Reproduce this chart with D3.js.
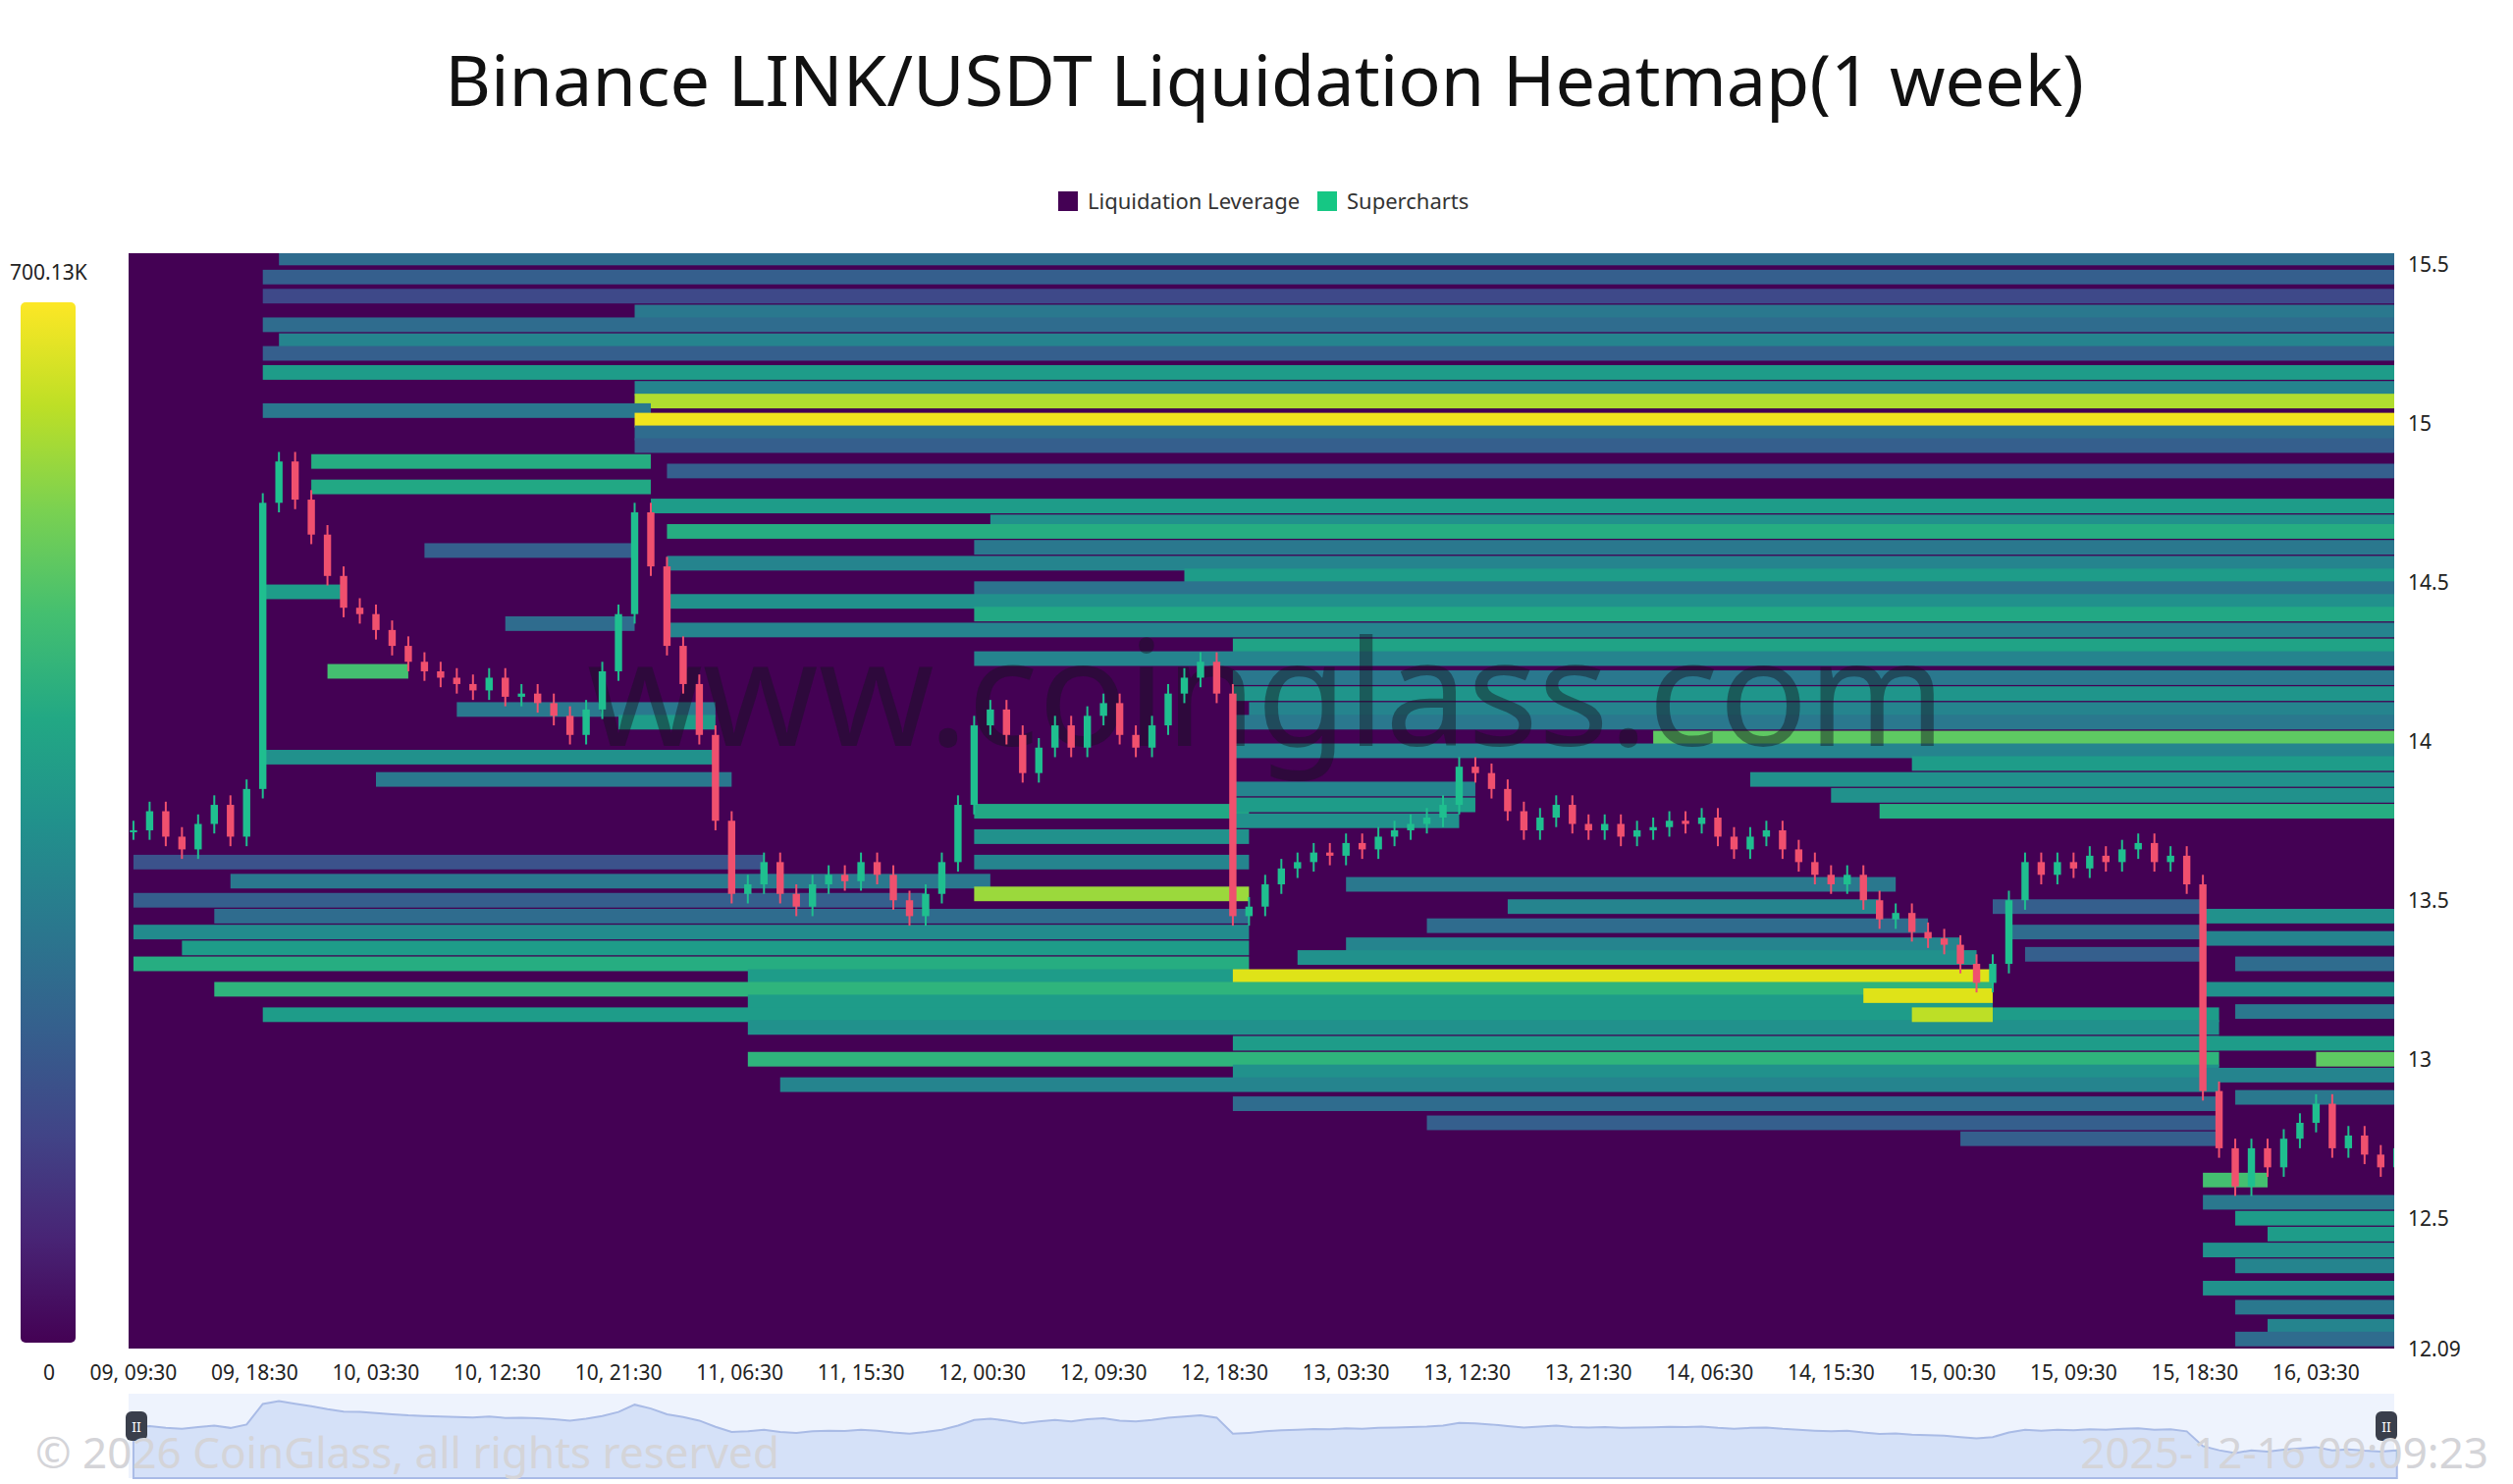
<!DOCTYPE html>
<html lang="en">
<head>
  <meta charset="UTF-8">
  <title>Binance LINK/USDT Liquidation Heatmap</title>
  <script src="https://cdn.jsdelivr.net/npm/d3@7"></script>
  <style>
    body { margin: 0; background: #fff; }
    text { font-family: "Noto Sans", Roboto, sans-serif; }
  </style>
</head>
<body>
<script>
// ---- Data ----------------------------------------------------------------
// closes every 72 minutes, step 0 = 09, 09:30
const STEP_HOURS = 1.2;
const closes = [
  13.72,13.78,13.70,13.66,13.74,13.80,13.70,13.85,14.75,14.88,
  14.76,14.65,14.52,14.42,14.40,14.35,14.30,14.25,14.22,14.20,
  14.18,14.16,14.20,14.14,14.15,14.12,14.08,14.02,14.10,14.22,
  14.40,14.72,14.55,14.30,14.18,14.02,13.75,13.52,13.55,13.62,
  13.52,13.48,13.55,13.58,13.56,13.62,13.58,13.50,13.45,13.52,
  13.62,13.80,14.05,14.10,14.02,13.90,13.98,14.05,13.98,14.08,
  14.12,14.02,13.98,14.05,14.15,14.20,14.25,14.15,13.45,13.48,
  13.55,13.60,13.62,13.65,13.64,13.68,13.66,13.70,13.72,13.74,
  13.76,13.80,13.92,13.90,13.85,13.78,13.72,13.76,13.80,13.74,
  13.72,13.74,13.70,13.72,13.73,13.75,13.74,13.76,13.70,13.66,
  13.70,13.72,13.66,13.62,13.58,13.55,13.58,13.50,13.44,13.46,
  13.40,13.38,13.36,13.30,13.24,13.30,13.50,13.62,13.58,13.62,
  13.60,13.64,13.62,13.66,13.68,13.62,13.64,13.55,12.90,12.72,
  12.60,12.72,12.66,12.75,12.80,12.86,12.72,12.76,12.70,12.66,
  12.72
];
// liquidation bands: [price, startStep, endStep, intensity 0..1]
const bands = [
  [15.52,9,140,.35],[15.46,8,140,.30],[15.40,8,140,.22],[15.35,31,140,.40],
  [15.31,8,140,.35],[15.26,9,140,.45],[15.22,8,140,.30],[15.16,8,140,.55],
  [15.11,31,140,.45],[15.07,31,140,.88],[15.04,8,31,.40],[15.01,31,140,.98],
  [14.97,31,140,.35],[14.93,31,140,.30],[14.88,11,31,.62],[14.85,33,140,.30],
  [14.80,11,31,.60],[14.74,32,140,.55],[14.69,53,140,.50],[14.66,33,140,.62],
  [14.61,52,140,.40],[14.56,33,140,.45],[14.52,65,140,.55],[14.48,52,140,.38],
  [14.44,33,140,.50],[14.40,52,140,.60],[14.35,33,140,.45],[14.30,68,140,.58],
  [14.26,52,140,.45],[14.20,68,140,.40],[14.15,68,140,.52],[14.10,69,140,.45],
  [14.06,68,140,.40],[14.01,94,140,.75],[13.97,68,140,.45],[13.93,110,140,.55],
  [13.88,100,140,.50],[13.83,105,140,.50],[13.78,108,140,.62],
  [14.60,18,30,.30],[14.47,8,12,.55],[14.37,23,30,.35],[14.22,12,16,.70],
  [14.10,20,35,.40],[14.06,30,35,.55],[13.95,8,35,.50],[13.88,15,36,.40],
  [13.62,0,38,.25],[13.56,6,52,.40],[13.50,0,48,.30],[13.45,5,68,.35],
  [13.40,0,68,.48],[13.35,3,68,.55],[13.30,0,68,.62],[13.26,38,68,.55],
  [13.26,68,114,.95],[13.22,5,114,.65],[13.18,38,114,.55],[13.14,8,128,.55],
  [13.10,38,128,.50],[13.05,68,128,.55],[13.00,38,128,.65],[12.96,68,128,.50],
  [12.92,40,128,.45],[12.86,68,128,.35],[12.80,80,128,.30],[12.75,113,128,.30],
  [13.20,107,114,.95],[13.14,110,114,.90],
  [13.52,52,68,.85],[13.78,52,68,.60],[13.70,52,68,.50],[13.62,52,68,.45],
  [13.85,68,82,.45],[13.80,68,82,.55],[13.75,68,81,.50],
  [13.55,75,108,.40],[13.48,85,107,.45],[13.42,80,110,.35],[13.36,75,112,.45],
  [13.32,72,113,.50],
  [13.48,115,127,.30],[13.40,116,127,.35],[13.33,117,127,.30],
  [13.45,128,140,.50],[13.38,128,140,.45],[13.30,130,140,.35],[13.22,128,140,.50],
  [13.15,130,140,.40],[13.05,128,140,.55],[13.00,135,140,.75],[12.95,128,140,.45],
  [12.88,130,140,.40],
  [12.55,128,140,.40],[12.50,130,140,.55],[12.45,132,140,.55],[12.40,128,140,.50],
  [12.35,130,140,.45],[12.28,128,140,.50],[12.22,130,140,.40],[12.16,132,140,.45],
  [12.12,130,140,.35],[12.62,128,131,.70]
];
const xTickLabels = ["09, 09:30","09, 18:30","10, 03:30","10, 12:30","10, 21:30","11, 06:30",
  "11, 15:30","12, 00:30","12, 09:30","12, 18:30","13, 03:30","13, 12:30","13, 21:30",
  "14, 06:30","14, 15:30","15, 00:30","15, 09:30","15, 18:30","16, 03:30"];
const TICK_HOURS = 9;
const yTicks = [12.5, 13, 13.5, 14, 14.5, 15, 15.5];
const yMin = 12.09, yMax = 15.535;
const maxValue = "700.13K";

// ---- Layout ----------------------------------------------------------------
const W = 2560, H = 1512;
const P = { left: 131, right: 2439, top: 258, bottom: 1374 };
const svg = d3.select("body").append("svg").attr("width", W).attr("height", H);

// x in hours since 09, 09:30
const x = d3.scaleLinear().domain([-0.36, 167.8]).range([P.left, P.right]);
const xs = s => x(s * STEP_HOURS);
const y = d3.scaleLinear().domain([yMin, yMax]).range([P.bottom, P.top]);
const color = t => d3.interpolateViridis(t);
const bg = color(0);

svg.append("text").attr("x", W / 2 + 8).attr("y", 108).attr("text-anchor", "middle")
  .attr("font-size", 72).attr("fill", "#111").text("Binance LINK/USDT Liquidation Heatmap(1 week)");

// legend
const lg = svg.append("g").attr("transform", "translate(1078,205)");
lg.append("rect").attr("x", 0).attr("y", -10).attr("width", 20).attr("height", 20).attr("fill", bg);
lg.append("text").attr("x", 30).attr("y", 8).attr("font-size", 22).attr("fill", "#333").text("Liquidation Leverage");
lg.append("rect").attr("x", 264).attr("y", -10).attr("width", 20).attr("height", 20).attr("fill", "#16c784");
lg.append("text").attr("x", 294).attr("y", 8).attr("font-size", 22).attr("fill", "#333").text("Supercharts");

// heatmap
const clip = svg.append("clipPath").attr("id", "plot");
clip.append("rect").attr("x", P.left).attr("y", P.top).attr("width", P.right - P.left).attr("height", P.bottom - P.top);
const plot = svg.append("g").attr("clip-path", "url(#plot)");
plot.append("rect").attr("x", P.left).attr("y", P.top).attr("width", P.right - P.left)
  .attr("height", P.bottom - P.top).attr("fill", bg);
const rowH = 0.046;
plot.selectAll("rect.band").data(bands).join("rect").attr("class", "band")
  .attr("x", d => xs(d[1])).attr("width", d => xs(d[2] + 1) - xs(d[1]))
  .attr("y", d => y(d[0] + rowH / 2)).attr("height", d => y(d[0] - rowH / 2) - y(d[0] + rowH / 2))
  .attr("fill", d => color(d[3]));

// watermark
plot.append("text").attr("x", 1290).attr("y", 760).attr("text-anchor", "middle")
  .attr("font-size", 150).attr("fill", "rgba(20,20,30,0.45)").text("www.coinglass.com");

// candles
const candles = closes.map((c, i) => {
  const o = i === 0 ? c : closes[i - 1];
  return { i, o, c, h: Math.max(o, c) + 0.03, l: Math.min(o, c) - 0.03 };
});
const bw = (xs(1) - xs(0)) * 0.45;
const cg = plot.selectAll("g.candle").data(candles).join("g").attr("class", "candle");
cg.append("line").attr("x1", d => xs(d.i)).attr("x2", d => xs(d.i))
  .attr("y1", d => y(d.h)).attr("y2", d => y(d.l))
  .attr("stroke", d => d.c >= d.o ? "#1fbf8f" : "#f0506e").attr("stroke-width", 2);
cg.append("rect").attr("x", d => xs(d.i) - bw / 2).attr("width", bw)
  .attr("y", d => y(Math.max(d.o, d.c))).attr("height", d => Math.max(2, Math.abs(y(d.o) - y(d.c))))
  .attr("fill", d => d.c >= d.o ? "#1fbf8f" : "#f0506e");

// right axis
svg.selectAll("text.yt").data(yTicks).join("text").attr("class", "yt")
  .attr("x", P.right + 14).attr("y", d => y(d) + 8).attr("font-size", 21).attr("fill", "#222")
  .text(d => d);
svg.append("text").attr("x", P.right + 14).attr("y", y(yMin) + 8).attr("font-size", 21)
  .attr("fill", "#222").text(yMin);

// x labels every 9 hours
svg.selectAll("text.xt").data(xTickLabels).join("text").attr("class", "xt")
  .attr("x", (d, i) => x(i * TICK_HOURS)).attr("y", 1406).attr("text-anchor", "middle")
  .attr("font-size", 21).attr("fill", "#222").text(d => d);

// colour bar
const defs = svg.append("defs");
const grad = defs.append("linearGradient").attr("id", "cbar").attr("x1", 0).attr("x2", 0).attr("y1", 1).attr("y2", 0);
d3.range(0, 1.01, 0.1).forEach(t => grad.append("stop").attr("offset", t).attr("stop-color", color(t)));
svg.append("rect").attr("x", 21).attr("y", 308).attr("width", 56).attr("height", 1060)
  .attr("rx", 5).attr("fill", "url(#cbar)");
svg.append("text").attr("x", 10).attr("y", 285).attr("font-size", 21).attr("fill", "#222").text(maxValue);
svg.append("text").attr("x", 44).attr("y", 1406).attr("font-size", 21).attr("fill", "#222").text("0");

// navigator
const nav = { top: 1420, bottom: 1506 };
svg.append("rect").attr("x", P.left).attr("y", nav.top).attr("width", P.right - P.left)
  .attr("height", nav.bottom - nav.top).attr("fill", "#eef3fd");
const ny = d3.scaleLinear().domain([11.5, 15.2]).range([nav.bottom, nav.top]);
svg.append("path").datum(closes)
  .attr("d", d3.area().x((d, i) => xs(i)).y0(nav.bottom).y1(d => ny(d)))
  .attr("fill", "#d5e1f8").attr("stroke", "#a9bbe6").attr("stroke-width", 2);
[P.left + 8, P.right - 8].forEach(hx => {
  svg.append("rect").attr("x", hx - 11).attr("y", 1438).attr("width", 22).attr("height", 30)
    .attr("rx", 6).attr("fill", "#3a3f4b");
  svg.append("text").attr("x", hx).attr("y", 1459).attr("text-anchor", "middle")
    .attr("font-size", 14).attr("fill", "#fff").text("II");
});

// footer
svg.append("text").attr("x", 36).attr("y", 1496).attr("font-size", 44).attr("fill", "#d4d4d8")
  .text("© 2026 CoinGlass, all rights reserved");
svg.append("text").attr("x", 2535).attr("y", 1496).attr("text-anchor", "end").attr("font-size", 44)
  .attr("fill", "#d4d4d8").text("2025-12-16 09:09:23");
</script>
</body>
</html>
